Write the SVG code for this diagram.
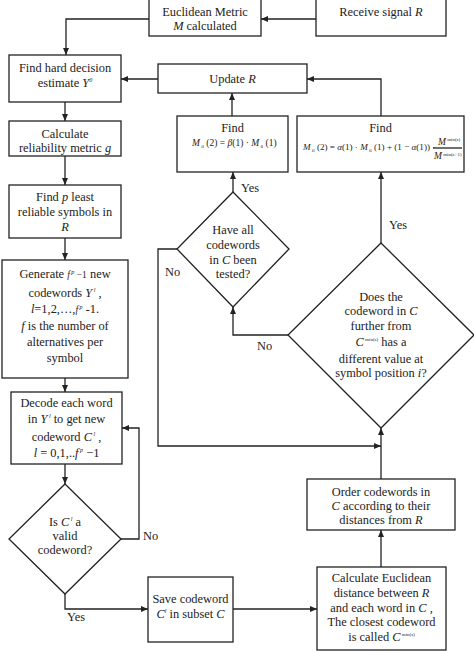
<svg xmlns="http://www.w3.org/2000/svg" width="474" height="651" viewBox="0 0 474 651">
<style>
.b{fill:#fff;stroke:#222;stroke-width:1.3}
.c{fill:none;stroke:#222;stroke-width:1.3;marker-end:url(#ah)}
.l{fill:none;stroke:#222;stroke-width:1.3}
text{font-family:"Liberation Serif","Times New Roman",serif;font-size:12.4px;fill:#222}
.t{text-anchor:middle}
.i{font-style:italic}
.s{font-size:6px}
.f{font-size:9.5px}
.f2{font-size:9.1px}
.xs{font-size:5px}
</style>
<defs>
<marker id="ah" markerWidth="8" markerHeight="8" refX="7" refY="4" orient="auto" markerUnits="userSpaceOnUse"><path d="M0,1 L7,4 L0,7 z" fill="#222"/></marker>
</defs>
<rect width="474" height="651" fill="#fff"/>

<g id="connectors">
<path class="c" d="M316,19 H261"/>
<path class="c" d="M149,19 H66 V55"/>
<path class="c" d="M158,79 H121"/>
<path class="c" d="M381,116 V79 H307"/>
<path class="c" d="M232,116 V93"/>
<path class="c" d="M65,102 V121"/>
<path class="c" d="M65,156 V185"/>
<path class="c" d="M65,238 V260"/>
<path class="c" d="M65,378 V392"/>
<path class="c" d="M65,464 V484"/>
<path class="c" d="M121,539 H139 V428 H122"/>
<path class="c" d="M65,594 V609 H148"/>
<path class="c" d="M233,609 H317"/>
<path class="c" d="M381,567 V530"/>
<path class="c" d="M381,479 V428"/>
<path class="c" d="M381,243 V172"/>
<path class="c" d="M288,335 H233 V307"/>
<path class="c" d="M233,192 V172"/>
<path class="c" d="M177,249 H158 V446 H381"/>
<text x="143" y="540">No</text>
<text x="67" y="621">Yes</text>
<text x="389" y="229">Yes</text>
<text x="257" y="350">No</text>
<text x="241" y="192">Yes</text>
<text x="165" y="276">No</text>
</g>

<g id="euclid">
<rect class="b" x="149" y="-5" width="112" height="41"/>
<text class="t" x="205" y="16">Euclidean Metric</text>
<text class="t" x="205" y="30"><tspan class="i">M</tspan> calculated</text>
</g>

<g id="receive">
<rect class="b" x="316" y="-5" width="130" height="41"/>
<text class="t" x="381" y="16">Receive signal <tspan class="i">R</tspan></text>
</g>

<g id="findhard">
<rect class="b" x="9" y="55" width="112" height="47"/>
<text class="t" x="65" y="72">Find hard decision</text>
<text class="t" x="65" y="87">estimate <tspan class="i">Y</tspan><tspan class="s i" dy="-5">0</tspan></text>
</g>

<g id="update">
<rect class="b" x="158" y="64" width="149" height="29"/>
<text class="t" x="232.5" y="83">Update <tspan class="i">R</tspan></text>
</g>

<g id="findL">
<rect class="b" x="177" y="116" width="111" height="56"/>
<text class="t" x="232.5" y="132">Find</text>
<text class="f" x="192" y="146"><tspan class="i">M</tspan><tspan class="xs" dy="2"> il</tspan><tspan dy="-2"> (2) = </tspan><tspan class="i">β</tspan>(1) · <tspan class="i">M</tspan><tspan class="xs" dy="2"> il</tspan><tspan dy="-2"> (1)</tspan></text>
</g>

<g id="findR">
<rect class="b" x="297" y="116" width="167" height="56"/>
<text class="t" x="380.5" y="132">Find</text>
<text class="f2" x="303" y="150"><tspan class="i">M</tspan><tspan class="xs" dy="2"> il</tspan><tspan dy="-2"> (2) = </tspan><tspan class="i">α</tspan>(1) · <tspan class="i">M</tspan><tspan class="xs" dy="2"> il</tspan><tspan dy="-2"> (1) + (1 − </tspan><tspan class="i">α</tspan>(1)) ·</text>
<text class="f" x="438" y="144.5"><tspan class="i">M</tspan><tspan class="xs" dy="-4"> min(s)</tspan></text>
<line class="l" x1="433" y1="148" x2="462" y2="148" stroke-width="0.8"/>
<text class="f" x="434" y="158.5"><tspan class="i">M</tspan><tspan class="xs" dy="-3"> min(s+1)</tspan></text>
</g>

<g id="calc">
<rect class="b" x="9" y="121" width="112" height="35"/>
<text class="t" x="65" y="138">Calculate</text>
<text class="t" x="65" y="152">reliability metric <tspan class="i">g</tspan></text>
</g>

<g id="findp">
<rect class="b" x="9" y="185" width="112" height="53"/>
<text class="t" x="65" y="201">Find <tspan class="i">p</tspan> least</text>
<text class="t" x="65" y="216">reliable symbols in</text>
<text class="t" x="65" y="231" font-style="italic">R</text>
</g>

<g id="generate">
<rect class="b" x="2" y="260" width="126" height="118"/>
<text class="t" x="65" y="278">Generate <tspan class="f i">f</tspan><tspan class="s i" dy="-4"> p</tspan><tspan class="f" dy="4"> −1</tspan> new</text>
<text class="t" x="65" y="297">codewords <tspan class="i">Y</tspan><tspan class="s i" dy="-5"> l</tspan><tspan dy="5"> ,</tspan></text>
<text class="t" x="65" y="313"><tspan class="i">l</tspan>=1,2,…,<tspan class="f i">f</tspan><tspan class="s i" dy="-4"> p</tspan><tspan dy="4"> -1.</tspan></text>
<text class="t" x="65" y="330"><tspan class="i">f</tspan> is the number of</text>
<text class="t" x="65" y="346">alternatives per</text>
<text class="t" x="65" y="362">symbol</text>
</g>

<g id="decode">
<rect class="b" x="11" y="392" width="111" height="72"/>
<text class="t" x="66.5" y="407">Decode each word</text>
<text class="t" x="66.5" y="423">in <tspan class="i">Y</tspan><tspan class="s i" dy="-5"> l</tspan><tspan dy="5"> to get new</tspan></text>
<text class="t" x="66.5" y="441">codeword <tspan class="i">C</tspan><tspan class="s i" dy="-5"> l</tspan><tspan dy="5"> ,</tspan></text>
<text class="t" x="66.5" y="457"><tspan class="i">l</tspan> = 0,1,..<tspan class="i">f</tspan><tspan class="s i" dy="-5"> p</tspan><tspan dy="5"> −1</tspan></text>
</g>

<g id="valid">
<polygon class="b" points="65,484 121,539 65,594 9,539"/>
<text class="t" x="65" y="526">Is <tspan class="i">C</tspan><tspan class="s i" dy="-5"> l</tspan><tspan dy="5"> a</tspan></text>
<text class="t" x="65" y="540">valid</text>
<text class="t" x="65" y="554">codeword?</text>
</g>

<g id="save">
<rect class="b" x="148" y="577" width="85" height="65"/>
<text class="t" x="190.5" y="603">Save codeword</text>
<text class="t" x="190.5" y="618"><tspan class="i">C</tspan><tspan class="s i" dy="-5">l</tspan><tspan dy="5"> in subset </tspan><tspan class="i">C</tspan></text>
</g>

<g id="calcEuc">
<rect class="b" x="317" y="567" width="129" height="83"/>
<text class="t" x="381.5" y="582">Calculate Euclidean</text>
<text class="t" x="381.5" y="597">distance between <tspan class="i">R</tspan></text>
<text class="t" x="381.5" y="612">and each word in <tspan class="i">C</tspan> ,</text>
<text class="t" x="381.5" y="626">The closest codeword</text>
<text class="t" x="381.5" y="641">is called <tspan class="i">C</tspan><tspan class="xs" dy="-5"> min(s)</tspan></text>
</g>

<g id="order">
<rect class="b" x="307" y="479" width="148" height="51"/>
<text class="t" x="381" y="496">Order codewords in</text>
<text class="t" x="381" y="510"><tspan class="i">C</tspan> according to their</text>
<text class="t" x="381" y="524">distances from <tspan class="i">R</tspan></text>
</g>

<g id="further">
<polygon class="b" points="381,243 474,335 381,428 288,335"/>
<text class="t" x="381" y="301">Does the</text>
<text class="t" x="381" y="315">codeword in <tspan class="i">C</tspan></text>
<text class="t" x="381" y="330">further from</text>
<text class="t" x="381" y="346"><tspan class="i">C</tspan><tspan class="xs" dy="-5"> min(s)</tspan><tspan dy="5">   has a</tspan></text>
<text class="t" x="381" y="363">different value at</text>
<text class="t" x="381" y="377">symbol position <tspan class="i">i</tspan>?</text>
</g>

<g id="haveall">
<polygon class="b" points="233,192 289,249 233,307 177,249"/>
<text class="t" x="233" y="234">Have all</text>
<text class="t" x="233" y="249">codewords</text>
<text class="t" x="233" y="264">in <tspan class="i">C</tspan> been</text>
<text class="t" x="233" y="278">tested?</text>
</g>
</svg>
